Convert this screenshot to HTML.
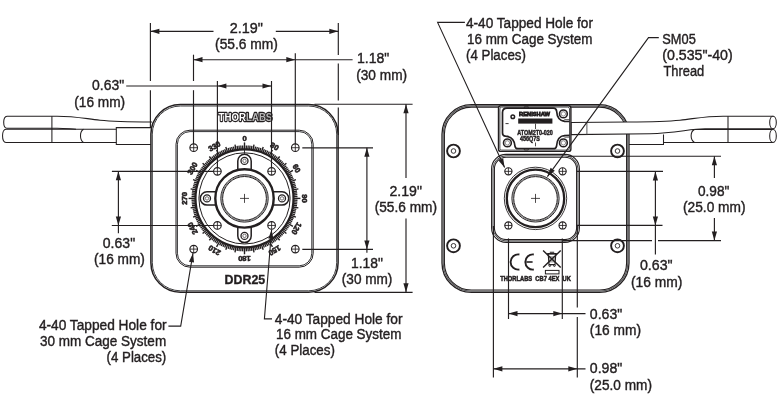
<!DOCTYPE html>
<html><head><meta charset="utf-8"><title>DDR25 Mechanical Drawing</title>
<style>
html,body{margin:0;padding:0;background:#fff;}
svg{display:block;will-change:transform;}
text{font-family:"Liberation Sans",Arial,Helvetica,sans-serif;fill:#231f20;}
</style></head><body>
<svg width="780" height="400" viewBox="0 0 780 400">
<rect width="780" height="400" fill="#fff"/>
<g fill="none" stroke="#231f20" stroke-width="1.05">
<path d="M57,116.2 H7 C2.6,116.2 2.6,128.2 7,128.2 H57"/>
<path d="M57,116.2 C75,116.2 85,118.6 100,120.2 C112,121.4 125,121.8 152,122"/>
<path d="M57,128.2 C65,128.2 70,128.9 76,129.2"/>
<path d="M116.3,129.3 H6 C1.4,129.3 1.4,142.4 6,142.4 H116.3"/>
<path d="M83.5,129.3 C79.5,131.5 79.5,140.2 83.5,142.4"/>
<path d="M51.9,116.2 V142.4"/>
<path d="M151,127.6 H116.3 V144.4 H151"/>
</g>
<rect x="150.9" y="104.6" width="187.20000000000002" height="187.6" rx="29.5" ry="29.5" fill="#fff" stroke="#231f20" stroke-width="1.5"/>
<rect x="152.3" y="106.0" width="184.39999999999998" height="184.8" rx="28.1" ry="28.1" fill="none" stroke="#3c3c3e" stroke-width="1.0"/>
<rect x="176" y="130.2" width="137.2" height="137.0" rx="14" ry="14" fill="none" stroke="#231f20" stroke-width="1.0"/>
<rect x="177.4" y="131.6" width="134.4" height="134.20000000000002" rx="12.6" ry="12.6" fill="none" stroke="#333335" stroke-width="1.0"/>
<line x1="244.5" y1="149.2" x2="244.5" y2="142.5" stroke="#231f20" stroke-width="1.4" />
<line x1="246.22" y1="149.23" x2="246.35" y2="145.43" stroke="#231f20" stroke-width="1.35" />
<line x1="247.93" y1="149.32" x2="248.2" y2="145.53" stroke="#231f20" stroke-width="1.35" />
<line x1="249.64" y1="149.47" x2="250.04" y2="145.69" stroke="#231f20" stroke-width="1.35" />
<line x1="251.35" y1="149.68" x2="251.88" y2="145.92" stroke="#231f20" stroke-width="1.35" />
<line x1="253.04" y1="149.95" x2="254.0" y2="144.53" stroke="#231f20" stroke-width="1.4" />
<line x1="254.73" y1="150.28" x2="255.52" y2="146.56" stroke="#231f20" stroke-width="1.35" />
<line x1="256.4" y1="150.66" x2="257.32" y2="146.97" stroke="#231f20" stroke-width="1.35" />
<line x1="258.06" y1="151.11" x2="259.11" y2="147.45" stroke="#231f20" stroke-width="1.35" />
<line x1="259.7" y1="151.61" x2="260.88" y2="147.99" stroke="#231f20" stroke-width="1.35" />
<line x1="261.33" y1="152.17" x2="263.21" y2="147.0" stroke="#231f20" stroke-width="1.4" />
<line x1="262.93" y1="152.78" x2="264.35" y2="149.26" stroke="#231f20" stroke-width="1.35" />
<line x1="264.51" y1="153.45" x2="266.06" y2="149.98" stroke="#231f20" stroke-width="1.35" />
<line x1="266.07" y1="154.18" x2="267.73" y2="150.76" stroke="#231f20" stroke-width="1.35" />
<line x1="267.6" y1="154.96" x2="269.38" y2="151.6" stroke="#231f20" stroke-width="1.35" />
<line x1="269.1" y1="155.79" x2="272.45" y2="149.99" stroke="#231f20" stroke-width="1.4" />
<line x1="270.57" y1="156.68" x2="272.59" y2="153.45" stroke="#231f20" stroke-width="1.35" />
<line x1="272.01" y1="157.61" x2="274.14" y2="154.46" stroke="#231f20" stroke-width="1.35" />
<line x1="273.42" y1="158.6" x2="275.65" y2="155.52" stroke="#231f20" stroke-width="1.35" />
<line x1="274.79" y1="159.63" x2="277.13" y2="156.64" stroke="#231f20" stroke-width="1.35" />
<line x1="276.13" y1="160.71" x2="279.66" y2="156.5" stroke="#231f20" stroke-width="1.4" />
<line x1="277.42" y1="161.84" x2="279.96" y2="159.01" stroke="#231f20" stroke-width="1.35" />
<line x1="278.68" y1="163.01" x2="281.32" y2="160.27" stroke="#231f20" stroke-width="1.35" />
<line x1="279.89" y1="164.22" x2="282.63" y2="161.58" stroke="#231f20" stroke-width="1.35" />
<line x1="281.06" y1="165.48" x2="283.89" y2="162.94" stroke="#231f20" stroke-width="1.35" />
<line x1="282.19" y1="166.77" x2="286.4" y2="163.24" stroke="#231f20" stroke-width="1.4" />
<line x1="283.27" y1="168.11" x2="286.26" y2="165.77" stroke="#231f20" stroke-width="1.35" />
<line x1="284.3" y1="169.48" x2="287.38" y2="167.25" stroke="#231f20" stroke-width="1.35" />
<line x1="285.29" y1="170.89" x2="288.44" y2="168.76" stroke="#231f20" stroke-width="1.35" />
<line x1="286.22" y1="172.33" x2="289.45" y2="170.31" stroke="#231f20" stroke-width="1.35" />
<line x1="287.11" y1="173.8" x2="292.91" y2="170.45" stroke="#231f20" stroke-width="1.4" />
<line x1="287.94" y1="175.3" x2="291.3" y2="173.52" stroke="#231f20" stroke-width="1.35" />
<line x1="288.72" y1="176.83" x2="292.14" y2="175.17" stroke="#231f20" stroke-width="1.35" />
<line x1="289.45" y1="178.39" x2="292.92" y2="176.84" stroke="#231f20" stroke-width="1.35" />
<line x1="290.12" y1="179.97" x2="293.64" y2="178.55" stroke="#231f20" stroke-width="1.35" />
<line x1="290.73" y1="181.57" x2="295.9" y2="179.69" stroke="#231f20" stroke-width="1.4" />
<line x1="291.29" y1="183.2" x2="294.91" y2="182.02" stroke="#231f20" stroke-width="1.35" />
<line x1="291.79" y1="184.84" x2="295.45" y2="183.79" stroke="#231f20" stroke-width="1.35" />
<line x1="292.24" y1="186.5" x2="295.93" y2="185.58" stroke="#231f20" stroke-width="1.35" />
<line x1="292.62" y1="188.17" x2="296.34" y2="187.38" stroke="#231f20" stroke-width="1.35" />
<line x1="292.95" y1="189.86" x2="298.37" y2="188.9" stroke="#231f20" stroke-width="1.4" />
<line x1="293.22" y1="191.55" x2="296.98" y2="191.02" stroke="#231f20" stroke-width="1.35" />
<line x1="293.43" y1="193.26" x2="297.21" y2="192.86" stroke="#231f20" stroke-width="1.35" />
<line x1="293.58" y1="194.97" x2="297.37" y2="194.7" stroke="#231f20" stroke-width="1.35" />
<line x1="293.67" y1="196.68" x2="297.47" y2="196.55" stroke="#231f20" stroke-width="1.35" />
<line x1="293.7" y1="198.4" x2="300.4" y2="198.4" stroke="#231f20" stroke-width="1.4" />
<line x1="293.67" y1="200.12" x2="297.47" y2="200.25" stroke="#231f20" stroke-width="1.35" />
<line x1="293.58" y1="201.83" x2="297.37" y2="202.1" stroke="#231f20" stroke-width="1.35" />
<line x1="293.43" y1="203.54" x2="297.21" y2="203.94" stroke="#231f20" stroke-width="1.35" />
<line x1="293.22" y1="205.25" x2="296.98" y2="205.78" stroke="#231f20" stroke-width="1.35" />
<line x1="292.95" y1="206.94" x2="298.37" y2="207.9" stroke="#231f20" stroke-width="1.4" />
<line x1="292.62" y1="208.63" x2="296.34" y2="209.42" stroke="#231f20" stroke-width="1.35" />
<line x1="292.24" y1="210.3" x2="295.93" y2="211.22" stroke="#231f20" stroke-width="1.35" />
<line x1="291.79" y1="211.96" x2="295.45" y2="213.01" stroke="#231f20" stroke-width="1.35" />
<line x1="291.29" y1="213.6" x2="294.91" y2="214.78" stroke="#231f20" stroke-width="1.35" />
<line x1="290.73" y1="215.23" x2="295.9" y2="217.11" stroke="#231f20" stroke-width="1.4" />
<line x1="290.12" y1="216.83" x2="293.64" y2="218.25" stroke="#231f20" stroke-width="1.35" />
<line x1="289.45" y1="218.41" x2="292.92" y2="219.96" stroke="#231f20" stroke-width="1.35" />
<line x1="288.72" y1="219.97" x2="292.14" y2="221.63" stroke="#231f20" stroke-width="1.35" />
<line x1="287.94" y1="221.5" x2="291.3" y2="223.28" stroke="#231f20" stroke-width="1.35" />
<line x1="287.11" y1="223.0" x2="292.91" y2="226.35" stroke="#231f20" stroke-width="1.4" />
<line x1="286.22" y1="224.47" x2="289.45" y2="226.49" stroke="#231f20" stroke-width="1.35" />
<line x1="285.29" y1="225.91" x2="288.44" y2="228.04" stroke="#231f20" stroke-width="1.35" />
<line x1="284.3" y1="227.32" x2="287.38" y2="229.55" stroke="#231f20" stroke-width="1.35" />
<line x1="283.27" y1="228.69" x2="286.26" y2="231.03" stroke="#231f20" stroke-width="1.35" />
<line x1="282.19" y1="230.03" x2="286.4" y2="233.56" stroke="#231f20" stroke-width="1.4" />
<line x1="281.06" y1="231.32" x2="283.89" y2="233.86" stroke="#231f20" stroke-width="1.35" />
<line x1="279.89" y1="232.58" x2="282.63" y2="235.22" stroke="#231f20" stroke-width="1.35" />
<line x1="278.68" y1="233.79" x2="281.32" y2="236.53" stroke="#231f20" stroke-width="1.35" />
<line x1="277.42" y1="234.96" x2="279.96" y2="237.79" stroke="#231f20" stroke-width="1.35" />
<line x1="276.13" y1="236.09" x2="279.66" y2="240.3" stroke="#231f20" stroke-width="1.4" />
<line x1="274.79" y1="237.17" x2="277.13" y2="240.16" stroke="#231f20" stroke-width="1.35" />
<line x1="273.42" y1="238.2" x2="275.65" y2="241.28" stroke="#231f20" stroke-width="1.35" />
<line x1="272.01" y1="239.19" x2="274.14" y2="242.34" stroke="#231f20" stroke-width="1.35" />
<line x1="270.57" y1="240.12" x2="272.59" y2="243.35" stroke="#231f20" stroke-width="1.35" />
<line x1="269.1" y1="241.01" x2="272.45" y2="246.81" stroke="#231f20" stroke-width="1.4" />
<line x1="267.6" y1="241.84" x2="269.38" y2="245.2" stroke="#231f20" stroke-width="1.35" />
<line x1="266.07" y1="242.62" x2="267.73" y2="246.04" stroke="#231f20" stroke-width="1.35" />
<line x1="264.51" y1="243.35" x2="266.06" y2="246.82" stroke="#231f20" stroke-width="1.35" />
<line x1="262.93" y1="244.02" x2="264.35" y2="247.54" stroke="#231f20" stroke-width="1.35" />
<line x1="261.33" y1="244.63" x2="263.21" y2="249.8" stroke="#231f20" stroke-width="1.4" />
<line x1="259.7" y1="245.19" x2="260.88" y2="248.81" stroke="#231f20" stroke-width="1.35" />
<line x1="258.06" y1="245.69" x2="259.11" y2="249.35" stroke="#231f20" stroke-width="1.35" />
<line x1="256.4" y1="246.14" x2="257.32" y2="249.83" stroke="#231f20" stroke-width="1.35" />
<line x1="254.73" y1="246.52" x2="255.52" y2="250.24" stroke="#231f20" stroke-width="1.35" />
<line x1="253.04" y1="246.85" x2="254.0" y2="252.27" stroke="#231f20" stroke-width="1.4" />
<line x1="251.35" y1="247.12" x2="251.88" y2="250.88" stroke="#231f20" stroke-width="1.35" />
<line x1="249.64" y1="247.33" x2="250.04" y2="251.11" stroke="#231f20" stroke-width="1.35" />
<line x1="247.93" y1="247.48" x2="248.2" y2="251.27" stroke="#231f20" stroke-width="1.35" />
<line x1="246.22" y1="247.57" x2="246.35" y2="251.37" stroke="#231f20" stroke-width="1.35" />
<line x1="244.5" y1="247.6" x2="244.5" y2="254.3" stroke="#231f20" stroke-width="1.4" />
<line x1="242.78" y1="247.57" x2="242.65" y2="251.37" stroke="#231f20" stroke-width="1.35" />
<line x1="241.07" y1="247.48" x2="240.8" y2="251.27" stroke="#231f20" stroke-width="1.35" />
<line x1="239.36" y1="247.33" x2="238.96" y2="251.11" stroke="#231f20" stroke-width="1.35" />
<line x1="237.65" y1="247.12" x2="237.12" y2="250.88" stroke="#231f20" stroke-width="1.35" />
<line x1="235.96" y1="246.85" x2="235.0" y2="252.27" stroke="#231f20" stroke-width="1.4" />
<line x1="234.27" y1="246.52" x2="233.48" y2="250.24" stroke="#231f20" stroke-width="1.35" />
<line x1="232.6" y1="246.14" x2="231.68" y2="249.83" stroke="#231f20" stroke-width="1.35" />
<line x1="230.94" y1="245.69" x2="229.89" y2="249.35" stroke="#231f20" stroke-width="1.35" />
<line x1="229.3" y1="245.19" x2="228.12" y2="248.81" stroke="#231f20" stroke-width="1.35" />
<line x1="227.67" y1="244.63" x2="225.79" y2="249.8" stroke="#231f20" stroke-width="1.4" />
<line x1="226.07" y1="244.02" x2="224.65" y2="247.54" stroke="#231f20" stroke-width="1.35" />
<line x1="224.49" y1="243.35" x2="222.94" y2="246.82" stroke="#231f20" stroke-width="1.35" />
<line x1="222.93" y1="242.62" x2="221.27" y2="246.04" stroke="#231f20" stroke-width="1.35" />
<line x1="221.4" y1="241.84" x2="219.62" y2="245.2" stroke="#231f20" stroke-width="1.35" />
<line x1="219.9" y1="241.01" x2="216.55" y2="246.81" stroke="#231f20" stroke-width="1.4" />
<line x1="218.43" y1="240.12" x2="216.41" y2="243.35" stroke="#231f20" stroke-width="1.35" />
<line x1="216.99" y1="239.19" x2="214.86" y2="242.34" stroke="#231f20" stroke-width="1.35" />
<line x1="215.58" y1="238.2" x2="213.35" y2="241.28" stroke="#231f20" stroke-width="1.35" />
<line x1="214.21" y1="237.17" x2="211.87" y2="240.16" stroke="#231f20" stroke-width="1.35" />
<line x1="212.87" y1="236.09" x2="209.34" y2="240.3" stroke="#231f20" stroke-width="1.4" />
<line x1="211.58" y1="234.96" x2="209.04" y2="237.79" stroke="#231f20" stroke-width="1.35" />
<line x1="210.32" y1="233.79" x2="207.68" y2="236.53" stroke="#231f20" stroke-width="1.35" />
<line x1="209.11" y1="232.58" x2="206.37" y2="235.22" stroke="#231f20" stroke-width="1.35" />
<line x1="207.94" y1="231.32" x2="205.11" y2="233.86" stroke="#231f20" stroke-width="1.35" />
<line x1="206.81" y1="230.03" x2="202.6" y2="233.56" stroke="#231f20" stroke-width="1.4" />
<line x1="205.73" y1="228.69" x2="202.74" y2="231.03" stroke="#231f20" stroke-width="1.35" />
<line x1="204.7" y1="227.32" x2="201.62" y2="229.55" stroke="#231f20" stroke-width="1.35" />
<line x1="203.71" y1="225.91" x2="200.56" y2="228.04" stroke="#231f20" stroke-width="1.35" />
<line x1="202.78" y1="224.47" x2="199.55" y2="226.49" stroke="#231f20" stroke-width="1.35" />
<line x1="201.89" y1="223.0" x2="196.09" y2="226.35" stroke="#231f20" stroke-width="1.4" />
<line x1="201.06" y1="221.5" x2="197.7" y2="223.28" stroke="#231f20" stroke-width="1.35" />
<line x1="200.28" y1="219.97" x2="196.86" y2="221.63" stroke="#231f20" stroke-width="1.35" />
<line x1="199.55" y1="218.41" x2="196.08" y2="219.96" stroke="#231f20" stroke-width="1.35" />
<line x1="198.88" y1="216.83" x2="195.36" y2="218.25" stroke="#231f20" stroke-width="1.35" />
<line x1="198.27" y1="215.23" x2="193.1" y2="217.11" stroke="#231f20" stroke-width="1.4" />
<line x1="197.71" y1="213.6" x2="194.09" y2="214.78" stroke="#231f20" stroke-width="1.35" />
<line x1="197.21" y1="211.96" x2="193.55" y2="213.01" stroke="#231f20" stroke-width="1.35" />
<line x1="196.76" y1="210.3" x2="193.07" y2="211.22" stroke="#231f20" stroke-width="1.35" />
<line x1="196.38" y1="208.63" x2="192.66" y2="209.42" stroke="#231f20" stroke-width="1.35" />
<line x1="196.05" y1="206.94" x2="190.63" y2="207.9" stroke="#231f20" stroke-width="1.4" />
<line x1="195.78" y1="205.25" x2="192.02" y2="205.78" stroke="#231f20" stroke-width="1.35" />
<line x1="195.57" y1="203.54" x2="191.79" y2="203.94" stroke="#231f20" stroke-width="1.35" />
<line x1="195.42" y1="201.83" x2="191.63" y2="202.1" stroke="#231f20" stroke-width="1.35" />
<line x1="195.33" y1="200.12" x2="191.53" y2="200.25" stroke="#231f20" stroke-width="1.35" />
<line x1="195.3" y1="198.4" x2="188.6" y2="198.4" stroke="#231f20" stroke-width="1.4" />
<line x1="195.33" y1="196.68" x2="191.53" y2="196.55" stroke="#231f20" stroke-width="1.35" />
<line x1="195.42" y1="194.97" x2="191.63" y2="194.7" stroke="#231f20" stroke-width="1.35" />
<line x1="195.57" y1="193.26" x2="191.79" y2="192.86" stroke="#231f20" stroke-width="1.35" />
<line x1="195.78" y1="191.55" x2="192.02" y2="191.02" stroke="#231f20" stroke-width="1.35" />
<line x1="196.05" y1="189.86" x2="190.63" y2="188.9" stroke="#231f20" stroke-width="1.4" />
<line x1="196.38" y1="188.17" x2="192.66" y2="187.38" stroke="#231f20" stroke-width="1.35" />
<line x1="196.76" y1="186.5" x2="193.07" y2="185.58" stroke="#231f20" stroke-width="1.35" />
<line x1="197.21" y1="184.84" x2="193.55" y2="183.79" stroke="#231f20" stroke-width="1.35" />
<line x1="197.71" y1="183.2" x2="194.09" y2="182.02" stroke="#231f20" stroke-width="1.35" />
<line x1="198.27" y1="181.57" x2="193.1" y2="179.69" stroke="#231f20" stroke-width="1.4" />
<line x1="198.88" y1="179.97" x2="195.36" y2="178.55" stroke="#231f20" stroke-width="1.35" />
<line x1="199.55" y1="178.39" x2="196.08" y2="176.84" stroke="#231f20" stroke-width="1.35" />
<line x1="200.28" y1="176.83" x2="196.86" y2="175.17" stroke="#231f20" stroke-width="1.35" />
<line x1="201.06" y1="175.3" x2="197.7" y2="173.52" stroke="#231f20" stroke-width="1.35" />
<line x1="201.89" y1="173.8" x2="196.09" y2="170.45" stroke="#231f20" stroke-width="1.4" />
<line x1="202.78" y1="172.33" x2="199.55" y2="170.31" stroke="#231f20" stroke-width="1.35" />
<line x1="203.71" y1="170.89" x2="200.56" y2="168.76" stroke="#231f20" stroke-width="1.35" />
<line x1="204.7" y1="169.48" x2="201.62" y2="167.25" stroke="#231f20" stroke-width="1.35" />
<line x1="205.73" y1="168.11" x2="202.74" y2="165.77" stroke="#231f20" stroke-width="1.35" />
<line x1="206.81" y1="166.77" x2="202.6" y2="163.24" stroke="#231f20" stroke-width="1.4" />
<line x1="207.94" y1="165.48" x2="205.11" y2="162.94" stroke="#231f20" stroke-width="1.35" />
<line x1="209.11" y1="164.22" x2="206.37" y2="161.58" stroke="#231f20" stroke-width="1.35" />
<line x1="210.32" y1="163.01" x2="207.68" y2="160.27" stroke="#231f20" stroke-width="1.35" />
<line x1="211.58" y1="161.84" x2="209.04" y2="159.01" stroke="#231f20" stroke-width="1.35" />
<line x1="212.87" y1="160.71" x2="209.34" y2="156.5" stroke="#231f20" stroke-width="1.4" />
<line x1="214.21" y1="159.63" x2="211.87" y2="156.64" stroke="#231f20" stroke-width="1.35" />
<line x1="215.58" y1="158.6" x2="213.35" y2="155.52" stroke="#231f20" stroke-width="1.35" />
<line x1="216.99" y1="157.61" x2="214.86" y2="154.46" stroke="#231f20" stroke-width="1.35" />
<line x1="218.43" y1="156.68" x2="216.41" y2="153.45" stroke="#231f20" stroke-width="1.35" />
<line x1="219.9" y1="155.79" x2="216.55" y2="149.99" stroke="#231f20" stroke-width="1.4" />
<line x1="221.4" y1="154.96" x2="219.62" y2="151.6" stroke="#231f20" stroke-width="1.35" />
<line x1="222.93" y1="154.18" x2="221.27" y2="150.76" stroke="#231f20" stroke-width="1.35" />
<line x1="224.49" y1="153.45" x2="222.94" y2="149.98" stroke="#231f20" stroke-width="1.35" />
<line x1="226.07" y1="152.78" x2="224.65" y2="149.26" stroke="#231f20" stroke-width="1.35" />
<line x1="227.67" y1="152.17" x2="225.79" y2="147.0" stroke="#231f20" stroke-width="1.4" />
<line x1="229.3" y1="151.61" x2="228.12" y2="147.99" stroke="#231f20" stroke-width="1.35" />
<line x1="230.94" y1="151.11" x2="229.89" y2="147.45" stroke="#231f20" stroke-width="1.35" />
<line x1="232.6" y1="150.66" x2="231.68" y2="146.97" stroke="#231f20" stroke-width="1.35" />
<line x1="234.27" y1="150.28" x2="233.48" y2="146.56" stroke="#231f20" stroke-width="1.35" />
<line x1="235.96" y1="149.95" x2="235.0" y2="144.53" stroke="#231f20" stroke-width="1.4" />
<line x1="237.65" y1="149.68" x2="237.12" y2="145.92" stroke="#231f20" stroke-width="1.35" />
<line x1="239.36" y1="149.47" x2="238.96" y2="145.69" stroke="#231f20" stroke-width="1.35" />
<line x1="241.07" y1="149.32" x2="240.8" y2="145.53" stroke="#231f20" stroke-width="1.35" />
<line x1="242.78" y1="149.23" x2="242.65" y2="145.43" stroke="#231f20" stroke-width="1.35" />
<circle cx="244.5" cy="198.4" r="49.0" fill="#fff" stroke="#231f20" stroke-width="2.2"/>
<circle cx="244.5" cy="198.4" r="45.6" fill="none" stroke="#231f20" stroke-width="1.0"/>
<text transform="translate(244.50,138.20) rotate(0)" font-size="7.6" font-weight="bold" text-anchor="middle" y="2.75" stroke="#231f20" stroke-width="0.6">0</text>
<text transform="translate(274.60,146.27) rotate(30)" font-size="7.6" font-weight="bold" text-anchor="middle" y="2.75" stroke="#231f20" stroke-width="0.6">30</text>
<text transform="translate(296.63,168.30) rotate(60)" font-size="7.6" font-weight="bold" text-anchor="middle" y="2.75" stroke="#231f20" stroke-width="0.6">60</text>
<text transform="translate(304.70,198.40) rotate(90)" font-size="7.6" font-weight="bold" text-anchor="middle" y="2.75" stroke="#231f20" stroke-width="0.6">90</text>
<text transform="translate(296.63,228.50) rotate(120)" font-size="7.6" font-weight="bold" text-anchor="middle" y="2.75" stroke="#231f20" stroke-width="0.6">120</text>
<text transform="translate(274.60,250.53) rotate(150)" font-size="7.6" font-weight="bold" text-anchor="middle" y="2.75" stroke="#231f20" stroke-width="0.6">150</text>
<text transform="translate(244.50,258.60) rotate(180)" font-size="7.6" font-weight="bold" text-anchor="middle" y="2.75" stroke="#231f20" stroke-width="0.6">180</text>
<text transform="translate(214.40,250.53) rotate(210)" font-size="7.6" font-weight="bold" text-anchor="middle" y="2.75" stroke="#231f20" stroke-width="0.6">210</text>
<text transform="translate(192.37,228.50) rotate(240)" font-size="7.6" font-weight="bold" text-anchor="middle" y="2.75" stroke="#231f20" stroke-width="0.6">240</text>
<text transform="translate(184.30,198.40) rotate(270)" font-size="7.6" font-weight="bold" text-anchor="middle" y="2.75" stroke="#231f20" stroke-width="0.6">270</text>
<text transform="translate(192.37,168.30) rotate(300)" font-size="7.6" font-weight="bold" text-anchor="middle" y="2.75" stroke="#231f20" stroke-width="0.6">300</text>
<text transform="translate(214.40,146.27) rotate(330)" font-size="7.6" font-weight="bold" text-anchor="middle" y="2.75" stroke="#231f20" stroke-width="0.6">330</text>
<g transform="rotate(0 244.5 198.4)">
<path d="M237.8,169.9 V160.9 A6.7,6.7 0 0 1 251.2,160.9 V169.9 Z" fill="#fff" stroke="#231f20" stroke-width="1.5"/>
<circle cx="244.5" cy="160.9" r="3.5" fill="#fff" stroke="#231f20" stroke-width="1.3"/>
<circle cx="244.5" cy="160.9" r="1.7" fill="none" stroke="#231f20" stroke-width="0.6"/>
</g>
<g transform="rotate(90 244.5 198.4)">
<path d="M237.8,169.9 V160.9 A6.7,6.7 0 0 1 251.2,160.9 V169.9 Z" fill="#fff" stroke="#231f20" stroke-width="1.5"/>
<circle cx="244.5" cy="160.9" r="3.5" fill="#fff" stroke="#231f20" stroke-width="1.3"/>
<circle cx="244.5" cy="160.9" r="1.7" fill="none" stroke="#231f20" stroke-width="0.6"/>
</g>
<g transform="rotate(180 244.5 198.4)">
<path d="M237.8,169.9 V160.9 A6.7,6.7 0 0 1 251.2,160.9 V169.9 Z" fill="#fff" stroke="#231f20" stroke-width="1.5"/>
<circle cx="244.5" cy="160.9" r="3.5" fill="#fff" stroke="#231f20" stroke-width="1.3"/>
<circle cx="244.5" cy="160.9" r="1.7" fill="none" stroke="#231f20" stroke-width="0.6"/>
</g>
<g transform="rotate(270 244.5 198.4)">
<path d="M237.8,169.9 V160.9 A6.7,6.7 0 0 1 251.2,160.9 V169.9 Z" fill="#fff" stroke="#231f20" stroke-width="1.5"/>
<circle cx="244.5" cy="160.9" r="3.5" fill="#fff" stroke="#231f20" stroke-width="1.3"/>
<circle cx="244.5" cy="160.9" r="1.7" fill="none" stroke="#231f20" stroke-width="0.6"/>
</g>
<line x1="244.5" y1="142.8" x2="244.5" y2="153.8" stroke="#231f20" stroke-width="0.9" />
<circle cx="244.5" cy="198.4" r="29.2" fill="#fff" stroke="#231f20" stroke-width="2.4"/>
<circle cx="244.5" cy="198.4" r="23.7" fill="none" stroke="#231f20" stroke-width="1.0"/>
<circle cx="244.5" cy="198.4" r="22.8" fill="none" stroke="#6d6e70" stroke-width="0.9"/>
<circle cx="244.5" cy="198.4" r="21.9" fill="none" stroke="#231f20" stroke-width="1.0"/>
<line x1="240.0" y1="198.4" x2="249.0" y2="198.4" stroke="#231f20" stroke-width="0.8" />
<line x1="244.5" y1="193.9" x2="244.5" y2="202.9" stroke="#231f20" stroke-width="0.8" />
<circle cx="193.7" cy="147.7" r="3.8" fill="#fff" stroke="#231f20" stroke-width="1.15"/>
<line x1="189.89999999999998" y1="147.7" x2="197.5" y2="147.7" stroke="#231f20" stroke-width="0.85" />
<line x1="193.7" y1="143.89999999999998" x2="193.7" y2="151.5" stroke="#231f20" stroke-width="0.85" />
<circle cx="217.4" cy="171.35" r="3.8" fill="#fff" stroke="#231f20" stroke-width="1.15"/>
<line x1="213.6" y1="171.35" x2="221.20000000000002" y2="171.35" stroke="#231f20" stroke-width="0.85" />
<line x1="217.4" y1="167.54999999999998" x2="217.4" y2="175.15" stroke="#231f20" stroke-width="0.85" />
<circle cx="193.7" cy="249.10000000000002" r="3.8" fill="#fff" stroke="#231f20" stroke-width="1.15"/>
<line x1="189.89999999999998" y1="249.10000000000002" x2="197.5" y2="249.10000000000002" stroke="#231f20" stroke-width="0.85" />
<line x1="193.7" y1="245.3" x2="193.7" y2="252.90000000000003" stroke="#231f20" stroke-width="0.85" />
<circle cx="217.4" cy="225.45000000000002" r="3.8" fill="#fff" stroke="#231f20" stroke-width="1.15"/>
<line x1="213.6" y1="225.45000000000002" x2="221.20000000000002" y2="225.45000000000002" stroke="#231f20" stroke-width="0.85" />
<line x1="217.4" y1="221.65" x2="217.4" y2="229.25000000000003" stroke="#231f20" stroke-width="0.85" />
<circle cx="295.3" cy="147.7" r="3.8" fill="#fff" stroke="#231f20" stroke-width="1.15"/>
<line x1="291.5" y1="147.7" x2="299.1" y2="147.7" stroke="#231f20" stroke-width="0.85" />
<line x1="295.3" y1="143.89999999999998" x2="295.3" y2="151.5" stroke="#231f20" stroke-width="0.85" />
<circle cx="271.6" cy="171.35" r="3.8" fill="#fff" stroke="#231f20" stroke-width="1.15"/>
<line x1="267.8" y1="171.35" x2="275.40000000000003" y2="171.35" stroke="#231f20" stroke-width="0.85" />
<line x1="271.6" y1="167.54999999999998" x2="271.6" y2="175.15" stroke="#231f20" stroke-width="0.85" />
<circle cx="295.3" cy="249.10000000000002" r="3.8" fill="#fff" stroke="#231f20" stroke-width="1.15"/>
<line x1="291.5" y1="249.10000000000002" x2="299.1" y2="249.10000000000002" stroke="#231f20" stroke-width="0.85" />
<line x1="295.3" y1="245.3" x2="295.3" y2="252.90000000000003" stroke="#231f20" stroke-width="0.85" />
<circle cx="271.6" cy="225.45000000000002" r="3.8" fill="#fff" stroke="#231f20" stroke-width="1.15"/>
<line x1="267.8" y1="225.45000000000002" x2="275.40000000000003" y2="225.45000000000002" stroke="#231f20" stroke-width="0.85" />
<line x1="271.6" y1="221.65" x2="271.6" y2="229.25000000000003" stroke="#231f20" stroke-width="0.85" />
<text transform="translate(218.6,121.3) scale(0.905,1)" font-size="10.7" font-weight="bold" stroke="#231f20" stroke-width="2.3" stroke-linejoin="round">THORLABS</text>
<text transform="translate(218.6,121.3) scale(0.905,1)" font-size="10.7" font-weight="bold" style="fill:#fff">THOR<tspan style="fill:#b4b4b4">LABS</tspan></text>
<text transform="translate(224.6,284.4) scale(1.0,1)" font-size="12.4" font-weight="bold" stroke="#231f20" stroke-width="0.35">DDR25</text>
<line x1="150.4" y1="22.9" x2="150.4" y2="81" stroke="#231f20" stroke-width="1.15" />
<line x1="150.4" y1="90.2" x2="150.4" y2="127" stroke="#231f20" stroke-width="1.15" />
<line x1="338.3" y1="22.9" x2="338.3" y2="54.9" stroke="#231f20" stroke-width="1.15" />
<line x1="338.3" y1="63.6" x2="338.3" y2="100.5" stroke="#231f20" stroke-width="1.15" />
<line x1="338.3" y1="107.5" x2="338.3" y2="135" stroke="#231f20" stroke-width="1.15" />
<line x1="150.4" y1="31.3" x2="213.5" y2="31.3" stroke="#231f20" stroke-width="1.15" />
<line x1="275.8" y1="31.3" x2="338.3" y2="31.3" stroke="#231f20" stroke-width="1.15" />
<polygon points="150.40,31.30 159.40,28.70 159.40,33.90" fill="#231f20"/>
<polygon points="338.30,31.30 329.30,33.90 329.30,28.70" fill="#231f20"/>
<line x1="193.5" y1="54.7" x2="193.5" y2="81" stroke="#231f20" stroke-width="1.15" />
<line x1="193.5" y1="90.2" x2="193.5" y2="144" stroke="#231f20" stroke-width="1.15" />
<line x1="295.3" y1="53.2" x2="295.3" y2="144" stroke="#231f20" stroke-width="1.15" />
<line x1="193.5" y1="59.7" x2="352.6" y2="59.7" stroke="#231f20" stroke-width="1.15" />
<polygon points="193.50,59.70 202.50,57.10 202.50,62.30" fill="#231f20"/>
<polygon points="295.30,59.70 286.30,62.30 286.30,57.10" fill="#231f20"/>
<line x1="217.4" y1="81" x2="217.4" y2="167.6" stroke="#231f20" stroke-width="1.15" />
<line x1="271.5" y1="81" x2="271.5" y2="167.6" stroke="#231f20" stroke-width="1.15" />
<line x1="126.2" y1="86" x2="271.5" y2="86" stroke="#231f20" stroke-width="1.15" />
<polygon points="217.40,86.00 226.40,83.40 226.40,88.60" fill="#231f20"/>
<polygon points="271.50,86.00 262.50,88.60 262.50,83.40" fill="#231f20"/>
<line x1="111.9" y1="171.3" x2="213.6" y2="171.3" stroke="#231f20" stroke-width="1.15" />
<line x1="111.8" y1="225.5" x2="213.6" y2="225.5" stroke="#231f20" stroke-width="1.15" />
<line x1="118.4" y1="171.3" x2="118.4" y2="233.2" stroke="#231f20" stroke-width="1.15" />
<polygon points="118.40,171.30 121.00,180.30 115.80,180.30" fill="#231f20"/>
<polygon points="118.40,225.50 115.80,216.50 121.00,216.50" fill="#231f20"/>
<line x1="302.3" y1="147.8" x2="373" y2="147.8" stroke="#231f20" stroke-width="1.15" />
<line x1="302.3" y1="249.4" x2="373" y2="249.4" stroke="#231f20" stroke-width="1.15" />
<line x1="366.9" y1="147.8" x2="366.9" y2="252.8" stroke="#231f20" stroke-width="1.15" />
<polygon points="366.90,147.80 369.50,156.80 364.30,156.80" fill="#231f20"/>
<polygon points="366.90,249.40 364.30,240.40 369.50,240.40" fill="#231f20"/>
<line x1="314.5" y1="104.2" x2="412.6" y2="104.2" stroke="#231f20" stroke-width="1.15" />
<line x1="314.5" y1="292.3" x2="412.6" y2="292.3" stroke="#231f20" stroke-width="1.15" />
<line x1="406" y1="104.3" x2="406" y2="177.9" stroke="#231f20" stroke-width="1.15" />
<line x1="406" y1="218.4" x2="406" y2="292.3" stroke="#231f20" stroke-width="1.15" />
<polygon points="406.00,104.30 408.60,113.30 403.40,113.30" fill="#231f20"/>
<polygon points="406.00,292.30 403.40,283.30 408.60,283.30" fill="#231f20"/>
<polyline points="168.4,326.1 180.7,326.1 193.0,253.2" fill="none" stroke="#231f20" stroke-width="1.1"/>
<polygon points="193.00,253.20 194.07,262.51 188.94,261.64" fill="#231f20"/>
<polyline points="272,318.9 264.4,318.9 271.6,229.8" fill="none" stroke="#231f20" stroke-width="1.1"/>
<polygon points="271.60,229.80 273.47,238.98 268.28,238.56" fill="#231f20"/>
<g fill="none" stroke="#231f20" stroke-width="1.05">
<path d="M628.8,144.4 H663.5 V134.6"/>
<path d="M663.5,142.4 H773"/>
<path d="M694.5,129.4 C690,131.5 690,140.2 694.5,142.4"/>
</g>
<rect x="442" y="104.7" width="187" height="187.7" rx="29.5" ry="29.5" fill="#fff" stroke="#231f20" stroke-width="1.3"/>
<rect x="443.2" y="105.9" width="184.59999999999997" height="185.29999999999998" rx="28.3" ry="28.3" fill="none" stroke="#58585a" stroke-width="1.1"/>
<rect x="444.4" y="107.1" width="182.20000000000005" height="182.9" rx="27.1" ry="27.1" fill="none" stroke="#231f20" stroke-width="1.1"/>
<path d="M571,122.6 L628,122 C655,121.8 668,121.4 680,120.2 C695,118.6 705,116.2 723,116.2 H773 V128.8 H705 C690,128.8 675,133.4 650,133.7 L571,134.6 Z" fill="#fff" stroke="#231f20" stroke-width="1.05"/>
<path d="M694.5,129.5 H773" fill="none" stroke="#231f20" stroke-width="1.05"/>
<line x1="728" y1="116.2" x2="728" y2="142.4" stroke="#231f20" stroke-width="1.05" />
<line x1="586.9" y1="122.6" x2="586.9" y2="134.6" stroke="#48484a" stroke-width="0.9" />
<ellipse cx="773" cy="122.5" rx="3.3" ry="6.3" fill="#fff" stroke="#231f20" stroke-width="1.05"/>
<ellipse cx="773" cy="135.9" rx="3.3" ry="6.5" fill="#fff" stroke="#231f20" stroke-width="1.05"/>
<circle cx="453.5" cy="151.0" r="6.4" fill="#fff" stroke="#231f20" stroke-width="1.9"/>
<circle cx="453.5" cy="151.0" r="2.3" fill="none" stroke="#231f20" stroke-width="0.9"/>
<circle cx="453.5" cy="245.8" r="6.4" fill="#fff" stroke="#231f20" stroke-width="1.9"/>
<circle cx="453.5" cy="245.8" r="2.3" fill="none" stroke="#231f20" stroke-width="0.9"/>
<circle cx="617.5" cy="151.0" r="6.4" fill="#fff" stroke="#231f20" stroke-width="1.9"/>
<circle cx="617.5" cy="151.0" r="2.3" fill="none" stroke="#231f20" stroke-width="0.9"/>
<circle cx="617.5" cy="245.8" r="6.4" fill="#fff" stroke="#231f20" stroke-width="1.9"/>
<circle cx="617.5" cy="245.8" r="2.3" fill="none" stroke="#231f20" stroke-width="0.9"/>
<rect x="491.6" y="154.4" width="87.79999999999995" height="88.0" rx="14.5" ry="14.5" fill="#fff" stroke="#231f20" stroke-width="1.1"/>
<rect x="493.0" y="155.8" width="85.0" height="85.19999999999999" rx="13.1" ry="13.1" fill="none" stroke="#48484a" stroke-width="1.0"/>
<rect x="494.4" y="157.2" width="82.20000000000005" height="82.4" rx="11.7" ry="11.7" fill="none" stroke="#231f20" stroke-width="1.1"/>
<circle cx="535.5" cy="198.4" r="31.2" fill="none" stroke="#231f20" stroke-width="0.9"/>
<circle cx="535.5" cy="198.4" r="28.7" fill="none" stroke="#231f20" stroke-width="2.3"/>
<circle cx="535.5" cy="198.4" r="23.6" fill="none" stroke="#231f20" stroke-width="1.0"/>
<circle cx="535.5" cy="198.4" r="22.7" fill="none" stroke="#6d6e70" stroke-width="0.9"/>
<circle cx="535.5" cy="198.4" r="21.8" fill="none" stroke="#231f20" stroke-width="1.0"/>
<line x1="531.0" y1="198.4" x2="540.0" y2="198.4" stroke="#231f20" stroke-width="0.8" />
<line x1="535.5" y1="193.9" x2="535.5" y2="202.9" stroke="#231f20" stroke-width="0.8" />
<circle cx="508.4" cy="171.35" r="3.6" fill="#fff" stroke="#231f20" stroke-width="1.15"/>
<line x1="504.79999999999995" y1="171.35" x2="512.0" y2="171.35" stroke="#231f20" stroke-width="0.85" />
<line x1="508.4" y1="167.75" x2="508.4" y2="174.95" stroke="#231f20" stroke-width="0.85" />
<circle cx="508.4" cy="225.45000000000002" r="3.6" fill="#fff" stroke="#231f20" stroke-width="1.15"/>
<line x1="504.79999999999995" y1="225.45000000000002" x2="512.0" y2="225.45000000000002" stroke="#231f20" stroke-width="0.85" />
<line x1="508.4" y1="221.85000000000002" x2="508.4" y2="229.05" stroke="#231f20" stroke-width="0.85" />
<circle cx="562.6" cy="171.35" r="3.6" fill="#fff" stroke="#231f20" stroke-width="1.15"/>
<line x1="559.0" y1="171.35" x2="566.2" y2="171.35" stroke="#231f20" stroke-width="0.85" />
<line x1="562.6" y1="167.75" x2="562.6" y2="174.95" stroke="#231f20" stroke-width="0.85" />
<circle cx="562.6" cy="225.45000000000002" r="3.6" fill="#fff" stroke="#231f20" stroke-width="1.15"/>
<line x1="559.0" y1="225.45000000000002" x2="566.2" y2="225.45000000000002" stroke="#231f20" stroke-width="0.85" />
<line x1="562.6" y1="221.85000000000002" x2="562.6" y2="229.05" stroke="#231f20" stroke-width="0.85" />
<rect x="498.5" y="105.8" width="72.39999999999998" height="45.60000000000001" rx="2.5" ry="2.5" fill="#fff" stroke="#231f20" stroke-width="1.4"/>
<rect x="499.9" y="107.1" width="69.60000000000002" height="43.0" rx="1.8" ry="1.8" fill="none" stroke="#3a3a3c" stroke-width="0.9"/>
<path d="M507,108.1 H553.5 C555.5,108.1 556.3,109 556.6,111 C557,117.5 559.5,120.8 564.5,121.3 L569.6,121.5 M569.6,135.3 L564.5,135.5 C559.5,136 557,139.3 556.6,145.8 C556.3,147.8 555.5,148.7 553.5,148.7 H518 C516,148.7 515.2,147.8 514.9,145.8 C514.4,139.8 511,136.6 505.5,136.2 C503.5,136 502.5,135.2 502.5,133 V112.6 C502.5,109.6 504,108.1 507,108.1" fill="none" stroke="#231f20" stroke-width="1.7" stroke-linejoin="round"/>
<circle cx="563.4" cy="113.9" r="3.9" fill="#fff" stroke="#231f20" stroke-width="1.6"/>
<circle cx="563.4" cy="113.9" r="2.2" fill="none" stroke="#231f20" stroke-width="0.5"/>
<circle cx="507.4" cy="142.9" r="3.9" fill="#fff" stroke="#231f20" stroke-width="1.6"/>
<circle cx="507.4" cy="142.9" r="2.2" fill="none" stroke="#231f20" stroke-width="0.5"/>
<circle cx="563.4" cy="142.9" r="3.9" fill="#fff" stroke="#231f20" stroke-width="1.6"/>
<circle cx="563.4" cy="142.9" r="2.2" fill="none" stroke="#231f20" stroke-width="0.5"/>
<path d="M524.3,108 v-1.2 h4 v1.2 M524.3,148.8 v1.2 h4 v-1.2 M563,121.3 l1.5,-1.6 h5 M563,135.5 l1.5,1.6 h5" fill="none" stroke="#231f20" stroke-width="0.8"/>
<circle cx="512.8" cy="116.8" r="1.8" fill="none" stroke="#231f20" stroke-width="1.5"/>
<line x1="505.5" y1="123.6" x2="508.6" y2="123.6" stroke="#231f20" stroke-width="0.9" />
<text transform="translate(519,115.5) scale(0.96,1)" font-size="6" font-weight="bold" stroke="#231f20" stroke-width="0.85">RENISHAW</text>
<rect x="518.2" y="118.5" width="34.2" height="5.1" fill="#231f20"/>
<line x1="535.5" y1="123.6" x2="535.5" y2="129" stroke="#231f20" stroke-width="0.8" />
<line x1="535.5" y1="142.5" x2="535.5" y2="146.3" stroke="#231f20" stroke-width="0.8" />
<text transform="translate(517.3,134.8) scale(0.86,1)" font-size="6.3" font-weight="bold" stroke="#231f20" stroke-width="0.45">ATOM2T0-020</text>
<text transform="translate(520,140.9) scale(0.86,1)" font-size="6.3" font-weight="bold" stroke="#231f20" stroke-width="0.45">456Q7S</text>
<path d="M519.4,254.5 A7.6,7.6 0 1 0 519.4,269.5" fill="none" stroke="#231f20" stroke-width="1.9"/>
<path d="M533.8,254.45 A7.6,7.6 0 1 0 533.8,269.55" fill="none" stroke="#231f20" stroke-width="1.9"/>
<path d="M526.3,262 H532.6" fill="none" stroke="#231f20" stroke-width="1.6"/>
<g fill="none" stroke="#231f20">
<path d="M543.1,250.5 L560.7,267.6 M560.7,250.5 L543.1,267.6" stroke-width="1.4"/>
<path d="M548.2,254 H555.8 L555,264.6 H549 Z" stroke-width="1.1"/>
<path d="M547.2,253.6 H556.8 M549.8,252.2 H554.2" stroke-width="1.1"/>
<path d="M550,256 V262.5 M552,256 V262.5 M554,256 V262.5" stroke-width="0.7"/>
<circle cx="549.8" cy="265.6" r="0.9" stroke-width="0.9"/><circle cx="554.4" cy="265.6" r="0.9" stroke-width="0.9"/>
<rect x="545.4" y="270.4" width="13.6" height="3.5" stroke-width="1"/>
</g>
<text transform="translate(500.2,281.3) scale(0.872,1)" font-size="6.6" font-weight="bold" stroke="#231f20" stroke-width="0.5" style="white-space:pre">THORLABS  CB7 4EX  UK</text>
<line x1="568" y1="156.2" x2="721" y2="156.2" stroke="#231f20" stroke-width="1.15" />
<line x1="577" y1="171.4" x2="663" y2="171.4" stroke="#231f20" stroke-width="1.15" />
<line x1="576.5" y1="225.4" x2="662.5" y2="225.4" stroke="#231f20" stroke-width="1.15" />
<line x1="563" y1="240.6" x2="652" y2="240.6" stroke="#231f20" stroke-width="1.15" />
<line x1="658" y1="240.6" x2="721" y2="240.6" stroke="#231f20" stroke-width="1.15" />
<line x1="655.4" y1="171.4" x2="655.4" y2="254.5" stroke="#231f20" stroke-width="1.15" />
<polygon points="655.40,171.40 658.00,180.40 652.80,180.40" fill="#231f20"/>
<polygon points="655.40,225.40 652.80,216.40 658.00,216.40" fill="#231f20"/>
<line x1="714.4" y1="156.2" x2="714.4" y2="178" stroke="#231f20" stroke-width="1.15" />
<line x1="714.4" y1="218" x2="714.4" y2="240.6" stroke="#231f20" stroke-width="1.15" />
<polygon points="714.40,156.20 717.00,165.20 711.80,165.20" fill="#231f20"/>
<polygon points="714.40,240.60 711.80,231.60 717.00,231.60" fill="#231f20"/>
<line x1="508.5" y1="238.4" x2="508.5" y2="319" stroke="#231f20" stroke-width="1.15" />
<line x1="562.3" y1="238.4" x2="562.3" y2="319" stroke="#231f20" stroke-width="1.15" />
<line x1="493.4" y1="226" x2="493.4" y2="377.6" stroke="#231f20" stroke-width="1.15" />
<line x1="577.3" y1="226" x2="577.3" y2="307.5" stroke="#231f20" stroke-width="1.15" />
<line x1="577.3" y1="317" x2="577.3" y2="377.6" stroke="#231f20" stroke-width="1.15" />
<line x1="508.5" y1="313.6" x2="585.5" y2="313.6" stroke="#231f20" stroke-width="1.15" />
<polygon points="508.50,313.60 517.50,311.00 517.50,316.20" fill="#231f20"/>
<polygon points="562.30,313.60 553.30,316.20 553.30,311.00" fill="#231f20"/>
<line x1="493.4" y1="368.8" x2="585.5" y2="368.8" stroke="#231f20" stroke-width="1.15" />
<polygon points="493.40,368.80 502.40,366.20 502.40,371.40" fill="#231f20"/>
<polygon points="577.30,368.80 568.30,371.40 568.30,366.20" fill="#231f20"/>
<polyline points="464.9,22.4 437.6,22.4 504.6,167.6" fill="none" stroke="#231f20" stroke-width="1.1"/>
<polygon points="504.60,167.60 498.47,160.52 503.19,158.34" fill="#231f20"/>
<polyline points="658.8,37.6 648.5,37.6 547.4,176.6" fill="none" stroke="#231f20" stroke-width="1.1"/>
<polygon points="547.40,176.60 550.59,167.79 554.80,170.85" fill="#231f20"/>
<g fill="#231f20" stroke="#231f20" stroke-width="0.42" font-family="'Liberation Sans', Arial, Helvetica, sans-serif">
<text transform="translate(229.70,32.90) scale(0.9531,1)" font-size="15.1">2.19&quot;</text>
<text transform="translate(215.10,49.10) scale(0.9145,1)" font-size="15.1">(55.6 mm)</text>
<text transform="translate(356.90,63.30) scale(0.9329,1)" font-size="15.1">1.18&quot;</text>
<text transform="translate(356.20,79.80) scale(0.9061,1)" font-size="15.1">(30 mm)</text>
<text transform="translate(92.10,90.40) scale(0.9243,1)" font-size="15.1">0.63&quot;</text>
<text transform="translate(74.30,106.60) scale(0.9061,1)" font-size="15.1">(16 mm)</text>
<text transform="translate(102.80,248.20) scale(0.9300,1)" font-size="15.1">0.63&quot;</text>
<text transform="translate(94.00,263.90) scale(0.9061,1)" font-size="15.1">(16 mm)</text>
<text transform="translate(389.50,195.90) scale(0.9358,1)" font-size="15.1">2.19&quot;</text>
<text transform="translate(374.70,212.10) scale(0.9058,1)" font-size="15.1">(55.6 mm)</text>
<text transform="translate(351.00,268.20) scale(0.9185,1)" font-size="15.1">1.18&quot;</text>
<text transform="translate(341.80,284.30) scale(0.9008,1)" font-size="15.1">(30 mm)</text>
<text transform="translate(38.90,330.00) scale(0.9081,1)" font-size="15.1">4-40 Tapped Hole for</text>
<text transform="translate(39.90,346.00) scale(0.8960,1)" font-size="15.1">30 mm Cage System</text>
<text transform="translate(106.60,361.80) scale(0.8786,1)" font-size="15.1">(4 Places)</text>
<text transform="translate(274.80,323.60) scale(0.9081,1)" font-size="15.1">4-40 Tapped Hole for</text>
<text transform="translate(276.00,339.40) scale(0.8903,1)" font-size="15.1">16 mm Cage System</text>
<text transform="translate(274.80,355.40) scale(0.8845,1)" font-size="15.1">(4 Places)</text>
<text transform="translate(466.00,27.90) scale(0.9024,1)" font-size="15.1">4-40 Tapped Hole for</text>
<text transform="translate(467.00,43.80) scale(0.8896,1)" font-size="15.1">16 mm Cage System</text>
<text transform="translate(466.00,59.50) scale(0.8815,1)" font-size="15.1">(4 Places)</text>
<text transform="translate(662.30,43.80) scale(0.8500,1)" font-size="15.1">SM05</text>
<text transform="translate(662.30,60.00) scale(0.9381,1)" font-size="15.1">(0.535&quot;-40)</text>
<text transform="translate(663.50,75.70) scale(0.8524,1)" font-size="15.1">Thread</text>
<text transform="translate(698.00,196.00) scale(0.9041,1)" font-size="15.1">0.98&quot;</text>
<text transform="translate(683.00,212.00) scale(0.9101,1)" font-size="15.1">(25.0 mm)</text>
<text transform="translate(640.00,270.00) scale(0.9387,1)" font-size="15.1">0.63&quot;</text>
<text transform="translate(631.00,286.50) scale(0.9150,1)" font-size="15.1">(16 mm)</text>
<text transform="translate(589.80,318.90) scale(0.9358,1)" font-size="15.1">0.63&quot;</text>
<text transform="translate(589.80,335.40) scale(0.9115,1)" font-size="15.1">(16 mm)</text>
<text transform="translate(589.80,373.30) scale(0.9358,1)" font-size="15.1">0.98&quot;</text>
<text transform="translate(589.80,389.80) scale(0.9043,1)" font-size="15.1">(25.0 mm)</text>
</g>
</svg>
</body></html>
